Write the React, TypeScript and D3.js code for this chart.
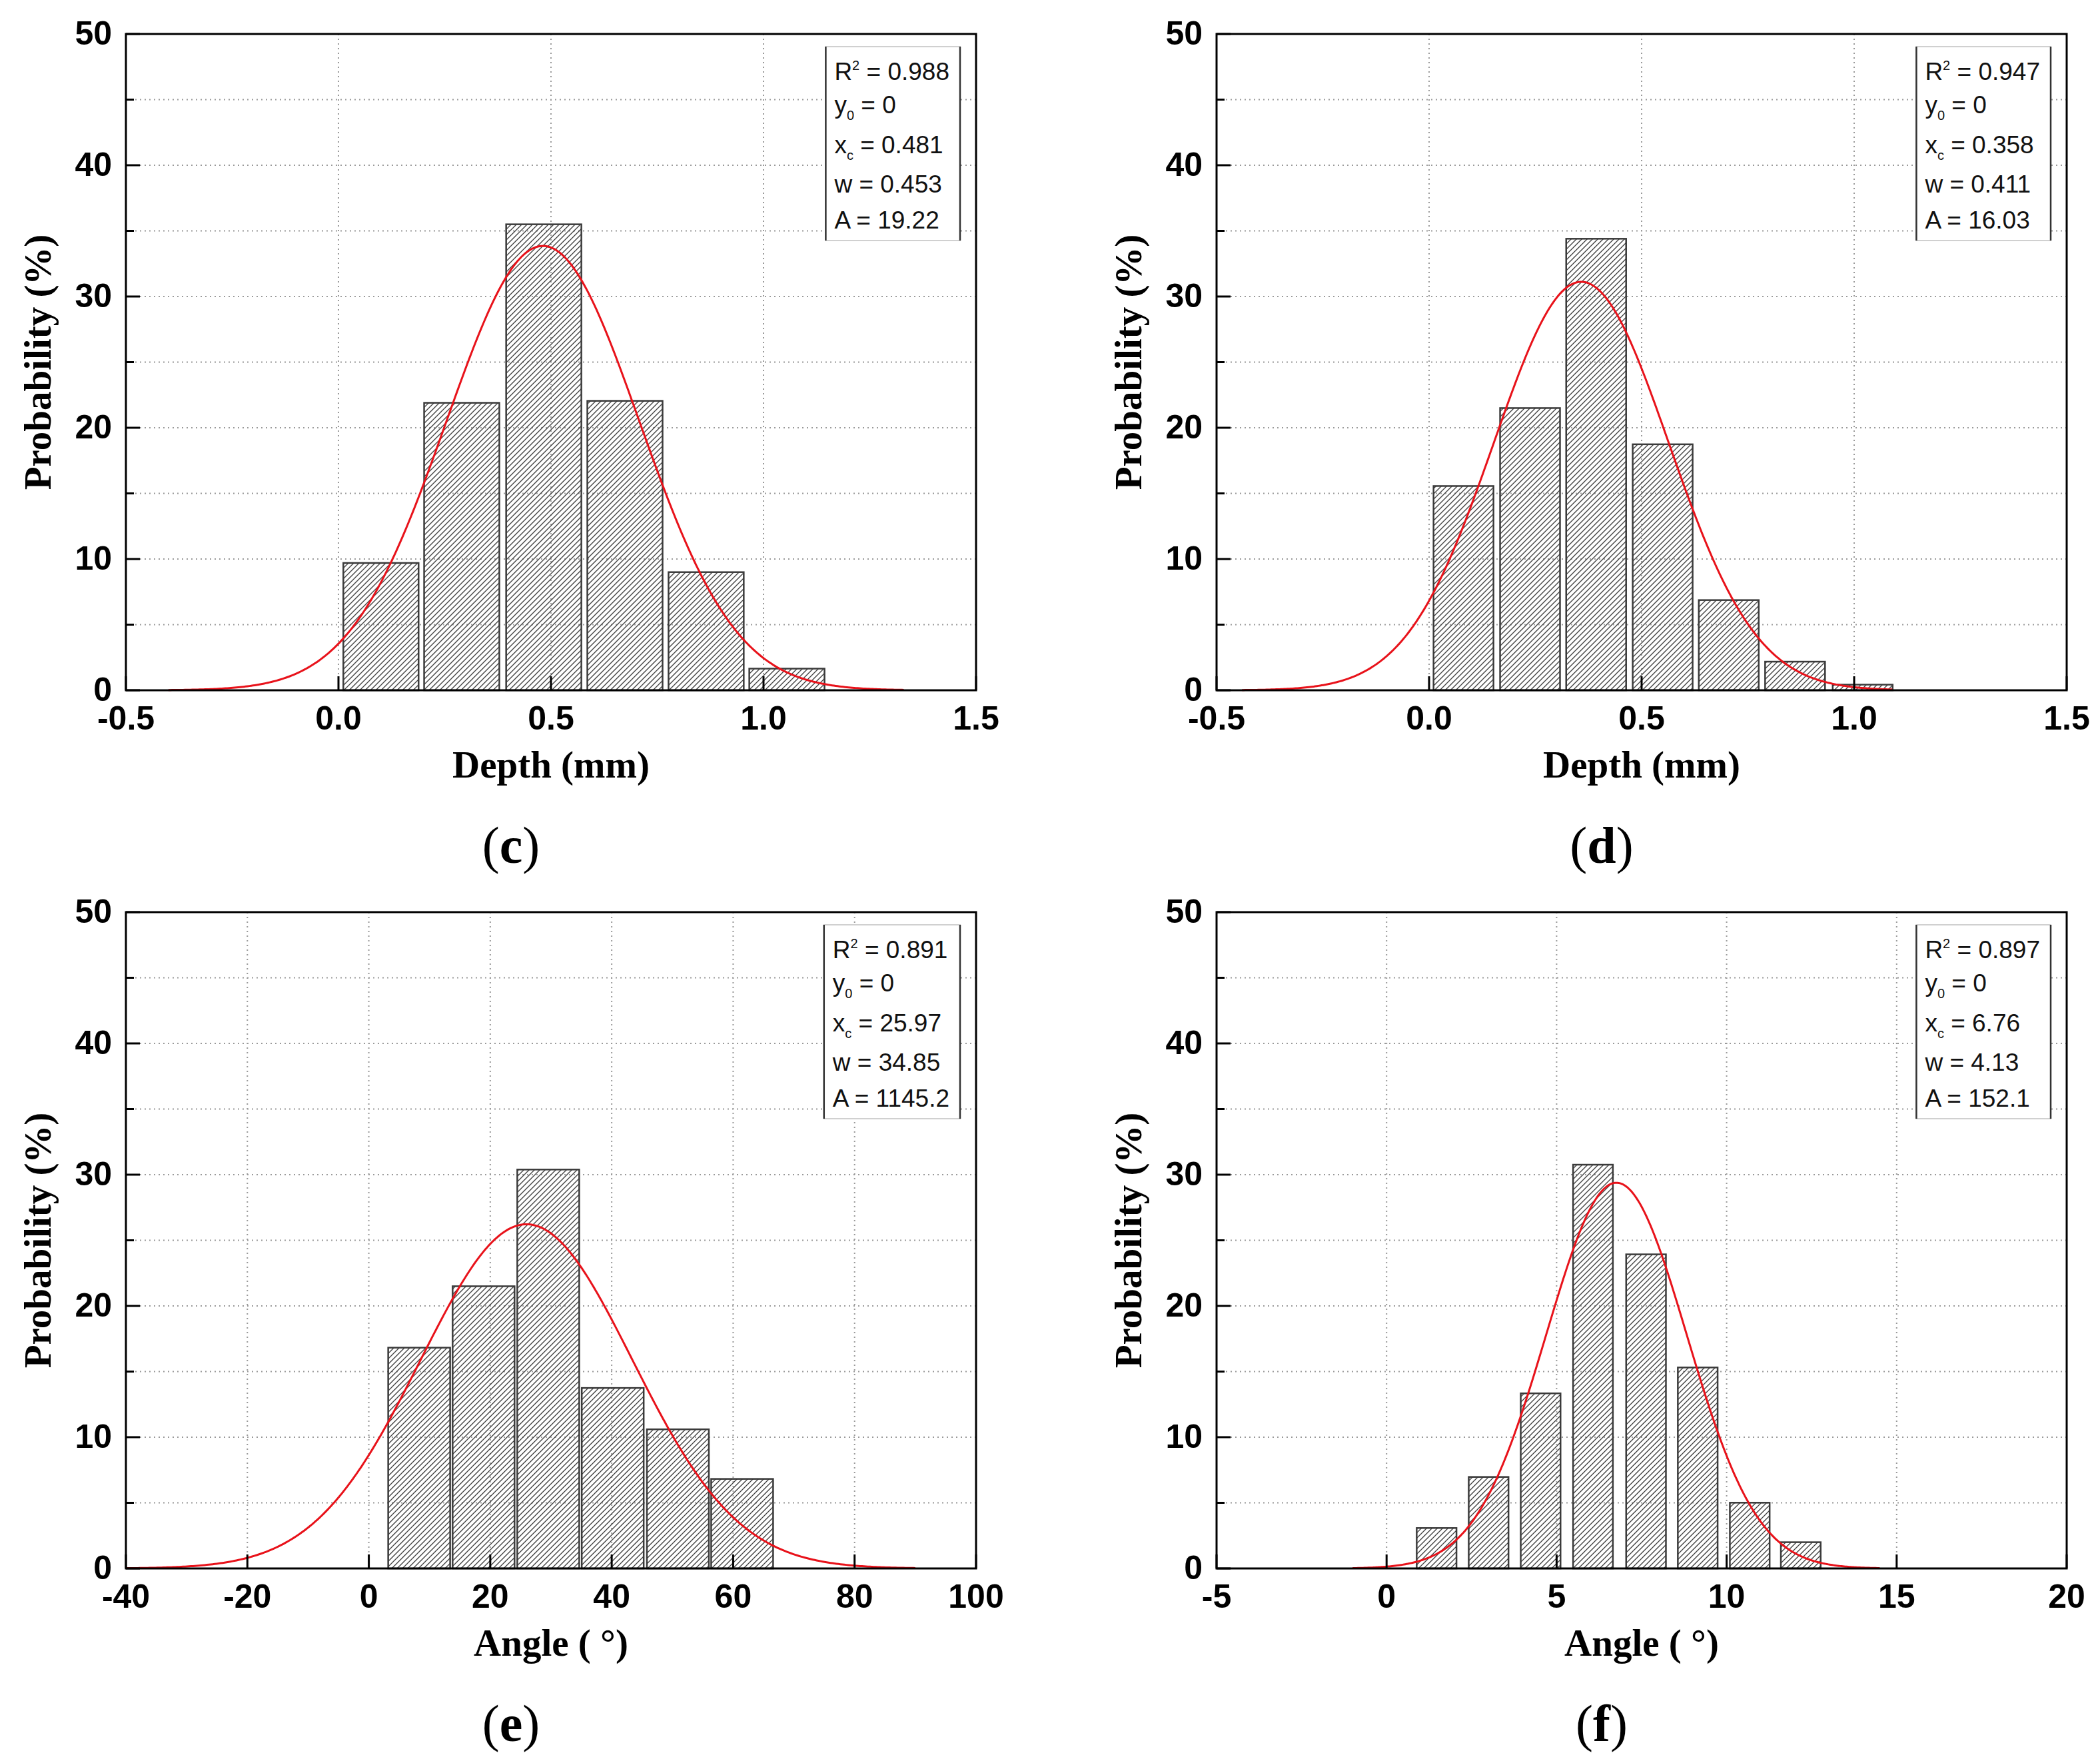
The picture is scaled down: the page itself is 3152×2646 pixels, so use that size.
import React, { useRef, useEffect } from 'react';
import * as d3 from 'd3';

// canvas size
const W = 3152;
const H = 2646;

// panel letters and axis titles
const panelLetters = ['c', 'd', 'e', 'f'];
const xTitles = ['Depth (mm)', 'Depth (mm)', 'Angle ( °)', 'Angle ( °)'];
const yTitle = 'Probability (%)';

// x axis ranges and ticks
const xDomains = [[-0.5, 1.5], [-0.5, 1.5], [-40, 100], [-5, 20]];
const depthTicks = [-0.5, 0.0, 0.5, 1.0, 1.5];
const angleTicksE = [-40, -20, 0, 20, 40, 60, 80, 100];
const angleTicksF = [-5, 0, 5, 10, 15, 20];
const yTicks = [0, 10, 20, 30, 40, 50];
const yMinorTicks = [5, 15, 25, 35, 45];

// histogram bars (bin centre, bar width, probability %)
const cCenters = [0.100, 0.290, 0.483, 0.674, 0.865, 1.055];
const cHeights = [9.7, 21.9, 35.5, 22.05, 9.0, 1.65];
const dCenters = [0.081, 0.2375, 0.393, 0.5495, 0.705, 0.861, 1.020];
const dHeights = [15.56, 21.5, 34.4, 18.74, 6.87, 2.18, 0.43];
const eCenters = [8.29, 18.9, 29.55, 40.17, 50.9, 61.48];
const eHeights = [16.82, 21.5, 30.39, 13.75, 10.6, 6.82];
const fCenters = [1.47, 3.0, 4.53, 6.07, 7.63, 9.15, 10.68, 12.18];
const fHeights = [3.08, 6.97, 13.34, 30.76, 23.93, 15.31, 5.01, 2.0];
const barWidths = [0.177, 0.141, 10.2, 1.17];

// Gauss fit parameters as printed in each legend
const fitR2 = ['0.988', '0.947', '0.891', '0.897'];
const fitY0 = [0, 0, 0, 0];
const fitXc = [0.481, 0.358, 25.97, 6.76];
const fitW = [0.453, 0.411, 34.85, 4.13];
const fitA = [19.22, 16.03, 1145.2, 152.1];
const fitRange = [[-0.4, 1.33], [-0.44, 1.09], [-40, 90], [-1, 14.5]];

// layout
const colLeft = [189, 1826];
const rowTop = [51, 1369];
const plotW = 1276;
const plotH = 985;

const sans = '"Liberation Sans", Arial, sans-serif';
const serif = '"Liberation Serif", "Times New Roman", serif';

const App = () => {
  const svgRef = useRef(null);

  useEffect(() => {
    const svg = d3.select(svgRef.current);
    svg.selectAll('*').remove();

    const defs = svg.append('defs');
    const pat = defs.append('pattern')
      .attr('id', 'hatch')
      .attr('patternUnits', 'userSpaceOnUse')
      .attr('width', 8)
      .attr('height', 8);
    pat.append('path')
      .attr('d', 'M-2,2 l4,-4 M0,8 l8,-8 M6,10 l4,-4')
      .attr('stroke', '#404040')
      .attr('stroke-width', 1.35);

    svg.append('rect').attr('width', W).attr('height', H).attr('fill', '#fff');

    const centers = [cCenters, dCenters, eCenters, fCenters];
    const heights = [cHeights, dHeights, eHeights, fHeights];
    const xTickSets = [depthTicks, depthTicks, angleTicksE, angleTicksF];

    panelLetters.forEach((letter, i) => {
      const left = colLeft[i % 2];
      const top = rowTop[Math.floor(i / 2)];
      const g = svg.append('g').attr('transform', `translate(${left},${top})`);

      const x = d3.scaleLinear().domain(xDomains[i]).range([0, plotW]);
      const y = d3.scaleLinear().domain([0, 50]).range([plotH, 0]);
      const xTicks = xTickSets[i];
      const fmt = i < 2 ? (v) => v.toFixed(1) : (v) => String(v);

      // dotted grid
      const grid = g.append('g')
        .attr('stroke', '#9a9a9a')
        .attr('stroke-width', 2)
        .attr('stroke-dasharray', '2,5');
      [...yTicks, ...yMinorTicks].forEach(v => {
        grid.append('line').attr('x1', 0).attr('x2', plotW).attr('y1', y(v)).attr('y2', y(v));
      });
      xTicks.forEach(v => {
        grid.append('line').attr('x1', x(v)).attr('x2', x(v)).attr('y1', 0).attr('y2', plotH);
      });

      // bars
      const bw = barWidths[i];
      g.append('g').selectAll('rect')
        .data(centers[i].map((c, k) => ({ c, h: heights[i][k] })))
        .enter()
        .append('rect')
        .attr('x', d => x(d.c - bw / 2))
        .attr('width', d => x(d.c + bw / 2) - x(d.c - bw / 2))
        .attr('y', d => y(d.h))
        .attr('height', d => y(0) - y(d.h))
        .attr('fill', 'url(#hatch)')
        .attr('stroke', '#3a3a3a')
        .attr('stroke-width', 2.5);

      // Gauss fit curve from the legend parameters
      const [lo, hi] = fitRange[i];
      const amp = fitA[i] / (fitW[i] * Math.sqrt(Math.PI / 2));
      const pts = d3.range(0, 401).map(k => {
        const xv = lo + (hi - lo) * k / 400;
        return [xv, fitY0[i] + amp * Math.exp(-2 * Math.pow((xv - fitXc[i]) / fitW[i], 2))];
      });
      g.append('path')
        .attr('d', d3.line().x(d => x(d[0])).y(d => y(d[1]))(pts))
        .attr('fill', 'none')
        .attr('stroke', '#e8121a')
        .attr('stroke-width', 3);

      // ticks (inward, left and bottom)
      const tk = g.append('g').attr('stroke', '#000').attr('stroke-width', 3);
      yTicks.forEach(v => tk.append('line').attr('x1', 0).attr('x2', 21).attr('y1', y(v)).attr('y2', y(v)));
      yMinorTicks.forEach(v => tk.append('line').attr('x1', 0).attr('x2', 12).attr('y1', y(v)).attr('y2', y(v)));
      xTicks.forEach(v => tk.append('line').attr('x1', x(v)).attr('x2', x(v)).attr('y1', plotH).attr('y2', plotH - 21));

      // frame
      g.append('rect')
        .attr('width', plotW).attr('height', plotH)
        .attr('fill', 'none').attr('stroke', '#000').attr('stroke-width', 3);

      // tick labels
      g.append('g').selectAll('text').data(yTicks).enter().append('text')
        .attr('x', -21).attr('y', d => y(d) + 16)
        .attr('text-anchor', 'end')
        .attr('font-family', sans).attr('font-weight', 'bold').attr('font-size', 50)
        .text(d => String(d));
      g.append('g').selectAll('text').data(xTicks).enter().append('text')
        .attr('x', d => x(d)).attr('y', plotH + 59)
        .attr('text-anchor', 'middle')
        .attr('font-family', sans).attr('font-weight', 'bold').attr('font-size', 50)
        .text(d => fmt(d));

      // axis titles
      g.append('text')
        .attr('x', plotW / 2).attr('y', plotH + 131)
        .attr('text-anchor', 'middle')
        .attr('font-family', serif).attr('font-weight', 'bold').attr('font-size', 57)
        .text(xTitles[i]);
      g.append('text')
        .attr('transform', `translate(-113,${plotH / 2}) rotate(-90)`)
        .attr('text-anchor', 'middle')
        .attr('font-family', serif).attr('font-weight', 'bold').attr('font-size', 57)
        .text(yTitle);

      // panel letter
      const pl = g.append('text')
        .attr('x', plotW / 2 - 60).attr('y', 1244)
        .attr('text-anchor', 'middle')
        .attr('font-family', serif).attr('font-size', 78);
      pl.append('tspan').text('(');
      pl.append('tspan').attr('font-weight', 'bold').text(letter);
      pl.append('tspan').text(')');

      // fit legend box
      const lg = g.append('g');
      const box = lg.append('rect').attr('fill', '#fff').attr('stroke', '#d0d0d0').attr('stroke-width', 2);
      const texts = lg.append('g')
        .attr('font-family', sans).attr('font-size', 37).attr('fill', '#111')
        .style('white-space', 'pre');
      const baselines = [50, 100, 160, 219, 273];
      const t0 = texts.append('text').attr('y', baselines[0]);
      t0.append('tspan').text('R');
      t0.append('tspan').attr('font-size', 20).attr('dy', -15).text('2');
      t0.append('tspan').attr('dy', 15).text(` = ${fitR2[i]}`);
      const t1 = texts.append('text').attr('y', baselines[1]);
      t1.append('tspan').text('y');
      t1.append('tspan').attr('font-size', 20).attr('dy', 10).text('0');
      t1.append('tspan').attr('dy', -10).text(` = ${fitY0[i]}`);
      const t2 = texts.append('text').attr('y', baselines[2]);
      t2.append('tspan').text('x');
      t2.append('tspan').attr('font-size', 20).attr('dy', 10).text('c');
      t2.append('tspan').attr('dy', -10).text(` = ${fitXc[i]}`);
      texts.append('text').attr('y', baselines[3]).text(`w = ${fitW[i]}`);
      texts.append('text').attr('y', baselines[4]).text(`A = ${fitA[i]}`);

      let maxW = 0;
      texts.selectAll('text').each(function () {
        maxW = Math.max(maxW, (this as SVGTextElement).getBBox().width);
      });
      const boxW = maxW + 29;
      const boxL = plotW - 24 - boxW;
      const boxT = 19;
      const boxH = 291;
      box.attr('x', 0).attr('y', 0).attr('width', boxW).attr('height', boxH);
      texts.attr('transform', 'translate(13,0)');
      lg.append('line').attr('x1', 0).attr('x2', 0).attr('y1', 0).attr('y2', boxH)
        .attr('stroke', '#333').attr('stroke-width', 2.5);
      lg.append('line').attr('x1', boxW).attr('x2', boxW).attr('y1', 0).attr('y2', boxH)
        .attr('stroke', '#333').attr('stroke-width', 2.5);
      lg.attr('transform', `translate(${boxL},${boxT})`);
    });
  }, []);

  return (
    <div style={{ position: 'absolute', left: 0, top: 0 }}>
      <svg ref={svgRef} width={W} height={H} viewBox={`0 0 ${W} ${H}`} style={{ display: 'block' }} />
    </div>
  );
};

export default App;
